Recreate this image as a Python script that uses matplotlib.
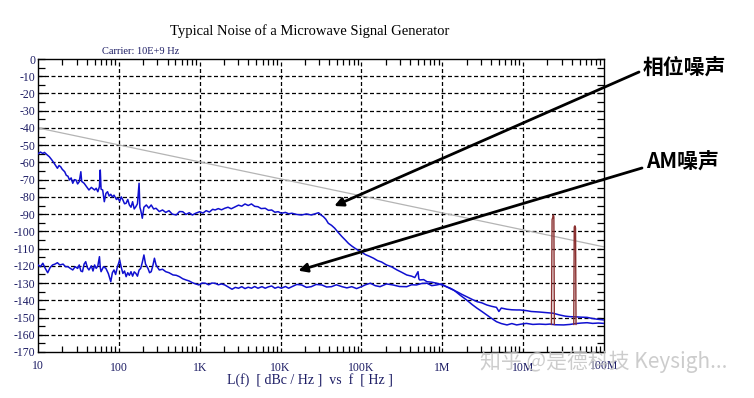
import numpy as np
import matplotlib
matplotlib.use("Agg")
import matplotlib.pyplot as plt
from matplotlib.ticker import FixedLocator, NullFormatter

# ---------------- data ----------------
title = "Typical Noise of a Microwave Signal Generator"
carrier_text = "Carrier: 10E+9 Hz"
xlabel = "L(f)  [ dBc / Hz ]  vs  f  [ Hz ]"

decades = [10, 100, 1e3, 1e4, 1e5, 1e6, 1e7, 1e8]
decade_labels = ["10", "100", "1K", "10K", "100K", "1M", "10M", "100M"]
y_ticks = list(range(0, -171, -10))

# phase noise: log10(frequency) and dBc/Hz
pn_logf = [1.00, 1.03, 1.06, 1.08, 1.11, 1.14, 1.17, 1.20, 1.22, 1.24, 1.26, 1.28, 1.30, 1.33,
           1.35, 1.37, 1.39, 1.41, 1.43, 1.45, 1.47, 1.49, 1.51, 1.53, 1.54, 1.57, 1.60, 1.63,
           1.66, 1.70, 1.72, 1.74, 1.76, 1.77, 1.78, 1.80, 1.82, 1.84, 1.86, 1.88, 1.90, 1.92,
           1.94, 1.97, 1.99, 2.01, 2.03, 2.05, 2.07, 2.09, 2.11, 2.13, 2.15, 2.17, 2.19, 2.21,
           2.23, 2.25, 2.26, 2.27, 2.29, 2.31, 2.34, 2.37, 2.40, 2.43, 2.46, 2.50, 2.54, 2.58,
           2.62, 2.66, 2.71, 2.75, 2.79, 2.83, 2.87, 2.91, 2.95, 3.00, 3.04, 3.08, 3.12, 3.16,
           3.19, 3.23, 3.27, 3.31, 3.35, 3.39, 3.44, 3.48, 3.52, 3.56, 3.60, 3.64, 3.68, 3.72,
           3.76, 3.81, 3.85, 3.89, 3.93, 3.97, 4.01, 4.06, 4.10, 4.14, 4.20, 4.26, 4.32, 4.38,
           4.43, 4.47, 4.50, 4.53, 4.56, 4.59, 4.63, 4.67, 4.71, 4.76, 4.80, 4.84, 4.88, 4.92,
           4.96, 5.00, 5.05, 5.10, 5.15, 5.20, 5.25, 5.31, 5.37, 5.44, 5.50, 5.56, 5.62, 5.66,
           5.70, 5.71, 5.72, 5.77, 5.81, 5.87, 5.93, 5.99, 6.05, 6.11, 6.18, 6.24, 6.30, 6.37,
           6.43, 6.49, 6.55, 6.61, 6.67, 6.70, 6.73, 6.80, 6.86, 6.92, 6.96, 7.04, 7.10, 7.20,
           7.30, 7.37, 7.45, 7.52, 7.58, 7.65, 7.72, 7.79, 7.85, 7.92, 8.00]
pn_db = [-55.0, -54.0, -54.8, -54.2, -55.5, -56.7, -58.5, -60.5, -62.0, -63.4, -61.8, -62.5, -64.0, -65.4,
         -67.5, -68.0, -70.2, -69.0, -72.1, -70.0, -70.2, -72.5, -71.2, -65.4, -71.0, -72.1, -74.0, -76.0,
         -74.5, -76.0, -75.0, -77.0, -74.0, -64.4, -75.5, -76.0, -82.8, -78.0, -77.0, -79.5, -78.5, -80.0,
         -79.0, -81.5, -80.8, -82.5, -80.0, -81.8, -84.0, -83.7, -81.5, -84.7, -86.0, -82.8, -87.0, -85.7,
         -84.0, -72.1, -86.0, -87.6, -92.4, -86.0, -84.7, -86.5, -84.7, -87.0, -86.6, -88.5, -87.6, -89.0,
         -88.0, -90.0, -90.5, -88.5, -88.6, -90.2, -89.2, -90.5, -89.5, -88.6, -89.4, -88.0, -88.8, -87.2,
         -87.6, -86.8, -87.5, -86.6, -86.0, -86.9, -85.7, -84.8, -85.4, -84.1, -85.0, -84.1, -85.5, -85.7,
         -86.8, -86.6, -87.8, -87.6, -88.9, -88.6, -89.5, -89.0, -89.8, -89.5, -90.2, -90.5, -89.9, -90.5,
         -89.8, -89.2, -90.5, -91.5, -93.0, -95.3, -96.5, -98.2, -100.5, -103.1, -105.0, -107.0, -108.5, -109.8,
         -111.0, -112.0, -113.5, -114.5, -115.6, -117.0, -117.8, -119.5, -120.5, -122.4, -123.8, -125.3, -126.0, -126.8,
         -123.4, -127.5, -128.2, -128.0, -129.2, -129.5, -130.1, -131.0, -132.1, -133.5, -135.0, -136.5, -137.9, -139.5,
         -140.8, -141.5, -142.7, -143.5, -144.1, -146.5, -144.5, -145.2, -145.5, -145.6, -145.6, -146.0, -146.5, -146.8,
         -147.2, -147.5, -148.5, -149.2, -149.5, -149.6, -149.8, -149.9, -150.5, -151.0, -151.4]

# AM noise
am_logf = [1.00, 1.03, 1.06, 1.09, 1.12, 1.15, 1.18, 1.21, 1.24, 1.27, 1.31, 1.34, 1.37, 1.40,
           1.43, 1.46, 1.49, 1.51, 1.53, 1.55, 1.57, 1.59, 1.61, 1.63, 1.66, 1.68, 1.70, 1.72,
           1.74, 1.76, 1.77, 1.78, 1.81, 1.84, 1.87, 1.90, 1.92, 1.94, 1.96, 1.98, 2.01, 2.03,
           2.05, 2.07, 2.09, 2.11, 2.13, 2.15, 2.17, 2.19, 2.21, 2.23, 2.25, 2.27, 2.29, 2.31,
           2.33, 2.36, 2.38, 2.40, 2.42, 2.44, 2.46, 2.48, 2.50, 2.54, 2.58, 2.62, 2.67, 2.71,
           2.75, 2.79, 2.83, 2.87, 2.91, 2.95, 2.99, 3.03, 3.07, 3.11, 3.15, 3.19, 3.23, 3.27,
           3.31, 3.36, 3.40, 3.44, 3.48, 3.52, 3.56, 3.60, 3.64, 3.68, 3.72, 3.77, 3.81, 3.85,
           3.89, 3.93, 3.97, 4.01, 4.06, 4.10, 4.14, 4.20, 4.26, 4.32, 4.38, 4.44, 4.51, 4.57,
           4.63, 4.69, 4.76, 4.82, 4.88, 4.94, 5.00, 5.05, 5.11, 5.17, 5.23, 5.31, 5.39, 5.47,
           5.56, 5.62, 5.68, 5.75, 5.81, 5.87, 5.93, 5.99, 6.05, 6.10, 6.14, 6.22, 6.30, 6.37,
           6.43, 6.49, 6.55, 6.61, 6.67, 6.73, 6.80, 6.86, 6.92, 6.98, 7.04, 7.12, 7.20, 7.28,
           7.33, 7.40, 7.50, 7.58, 7.65, 7.72, 7.79, 7.86, 7.93, 8.00]
am_db = [-119.5, -120.5, -118.5, -121.5, -124.0, -121.0, -119.5, -119.0, -118.2, -119.5, -119.0, -120.5, -120.5, -121.5,
         -122.4, -120.5, -121.5, -119.5, -123.0, -123.4, -119.0, -117.6, -121.0, -122.4, -120.0, -123.0, -119.5, -121.5,
         -120.0, -114.7, -121.0, -123.4, -120.5, -121.5, -124.5, -129.2, -124.0, -122.4, -125.0, -121.0, -116.6, -121.0,
         -124.4, -123.0, -126.3, -124.0, -125.5, -123.4, -126.0, -123.5, -124.4, -126.0, -122.5, -121.5, -118.0, -113.7,
         -119.0, -121.5, -124.0, -123.4, -120.0, -115.6, -119.5, -121.0, -122.4, -122.0, -123.4, -124.0, -125.3, -125.5,
         -126.3, -127.5, -128.2, -128.8, -129.8, -130.5, -131.1, -130.0, -130.1, -131.0, -130.0, -130.1, -131.0, -130.5,
         -131.1, -132.5, -133.6, -132.5, -133.0, -132.1, -133.2, -132.4, -133.0, -132.0, -133.0, -132.1, -133.0, -132.2,
         -131.7, -133.0, -132.3, -133.0, -132.0, -133.0, -132.1, -130.8, -131.1, -132.5, -132.1, -130.8, -131.1, -132.3,
         -132.1, -131.0, -132.1, -132.8, -132.1, -133.2, -132.1, -131.0, -130.1, -131.5, -132.1, -130.5, -131.1, -132.0,
         -132.1, -131.0, -131.1, -130.2, -130.1, -131.5, -131.1, -130.5, -132.1, -133.0, -134.0, -137.0, -139.8, -142.5,
         -144.6, -146.5, -148.5, -150.5, -152.4, -153.5, -154.3, -153.5, -154.3, -153.8, -153.4, -154.0, -153.8, -154.0,
         -153.8, -154.2, -154.3, -154.0, -153.5, -153.2, -153.0, -153.4, -153.2, -153.4]

# spurs (brown)
spur1_logf = [7.350, 7.358, 7.364, 7.372, 7.380, 7.386]
spur1_db = [-154.0, -93.0, -92.5, -90.5, -91.5, -154.0]
spur2_logf = [7.626, 7.632, 7.640, 7.648, 7.654]
spur2_db = [-154.0, -97.5, -96.8, -98.0, -154.0]

# gray reference line
ref_f = [10, 1e8]
ref_db = [-40.0, -109.0]

# annotations
ann_pn = "相位噪声"
ann_am = "AM噪声"
pn_arrow_tip = (46100, -85.3)
am_arrow_tip = (16560, -122.8)
watermark = "知乎 @是德科技 Keysigh..."

# ---------------- drawing ----------------
W, H = 754, 398
fig = plt.figure(figsize=(W / 100, H / 100), dpi=100)
fig.patch.set_facecolor("white")

ax = fig.add_axes([38 / W, 1 - 352 / H, (604 - 38) / W, (352 - 59) / H])
ax.set_xscale("log")
ax.set_xlim(10, 1e8)
ax.set_ylim(-170, 0)

serif = ["Liberation Serif", "DejaVu Serif"]
navy = "#1c1c64"

# grid
for f in decades[1:-1]:
    ax.axvline(f, color="black", lw=0.9, dashes=(3.2, 2), zorder=1)
for y in y_ticks[1:-1]:
    ax.axhline(y, color="black", lw=0.9, dashes=(3.2, 2), zorder=1)

blue = "#1010d0"
ax.plot(ref_f, ref_db, color="#b4b4b4", lw=0.9, zorder=2)
ax.plot(10 ** np.array(pn_logf), pn_db, color=blue, lw=1.1, zorder=3)
ax.plot(10 ** np.array(am_logf), am_db, color=blue, lw=1.1, zorder=3)
ax.plot(10 ** np.array(spur1_logf), spur1_db, color="#8a3030", lw=1.0, zorder=4)
ax.plot(10 ** np.array(spur2_logf), spur2_db, color="#8a3030", lw=1.0, zorder=4)

# ticks
ax.set_yticks(y_ticks)
ax.set_yticklabels([str(v) for v in y_ticks], fontfamily=serif, fontsize=8.5, color=navy)
ax.yaxis.set_minor_locator(FixedLocator(list(range(-165, 0, 10))))
ax.tick_params(axis="y", which="both", direction="in", length=5, width=0.9,
               left=True, right=True, pad=2)

ax.set_xticks(decades)
ax.set_xticklabels([""] + decade_labels[1:-1] + [""], fontfamily=serif, fontsize=8.5, color=navy)
minors = [d * k for d in decades[:-1] for k in range(2, 10)]
ax.xaxis.set_minor_locator(FixedLocator(minors))
ax.xaxis.set_minor_formatter(NullFormatter())
ax.tick_params(axis="x", which="both", direction="in", length=4, width=0.9,
               bottom=True, top=True, pad=7)
ax.tick_params(axis="x", which="major", length=0)

for s in ax.spines.values():
    s.set_color("black")
    s.set_linewidth(1.0)

# end labels, set lower
ax.text(decades[0], -174.5, decade_labels[0], ha="center", va="top",
        fontfamily=serif, fontsize=8.5, color=navy)
ax.text(decades[-1], -174.5, decade_labels[-1], ha="center", va="top",
        fontfamily=serif, fontsize=8.5, color=navy)

# texts
fig.text(310 / W, 1 - 31 / H, title, ha="center", va="center",
         fontfamily=serif, fontsize=10.5, color="black")
fig.text(102 / W, 1 - 52 / H, carrier_text, ha="left", va="center",
         fontfamily=serif, fontsize=7.5, color=navy)
fig.text(310 / W, 1 - 380 / H, xlabel, ha="center", va="center",
         fontfamily=serif, fontsize=10, color=navy)

cjk = ["Noto Sans CJK SC", "DejaVu Sans"]
fig.text(684 / W, 1 - 67 / H, ann_pn, ha="center", va="center",
         fontfamily=cjk, fontsize=15, fontweight="bold", color="black")
fig.text(683 / W, 1 - 162 / H, ann_am, ha="center", va="center",
         fontfamily=cjk, fontsize=15, fontweight="bold", color="black")

arrow_kw = dict(arrowstyle="-|>", lw=2.0, color="black", mutation_scale=13,
                shrinkA=0, shrinkB=0)
ax.annotate("", xy=pn_arrow_tip, xycoords="data",
            xytext=(639 / W, 1 - 72 / H), textcoords="figure fraction",
            arrowprops=arrow_kw, annotation_clip=False, zorder=6)
ax.annotate("", xy=am_arrow_tip, xycoords="data",
            xytext=(642 / W, 1 - 168 / H), textcoords="figure fraction",
            arrowprops=arrow_kw, annotation_clip=False, zorder=6)

fig.text(604 / W, 1 - 362 / H, watermark, ha="center", va="center",
         fontfamily=cjk, fontsize=15, color="#c4c4c4", alpha=0.85, zorder=10)

fig.savefig("out.png", dpi=100, facecolor="white")
